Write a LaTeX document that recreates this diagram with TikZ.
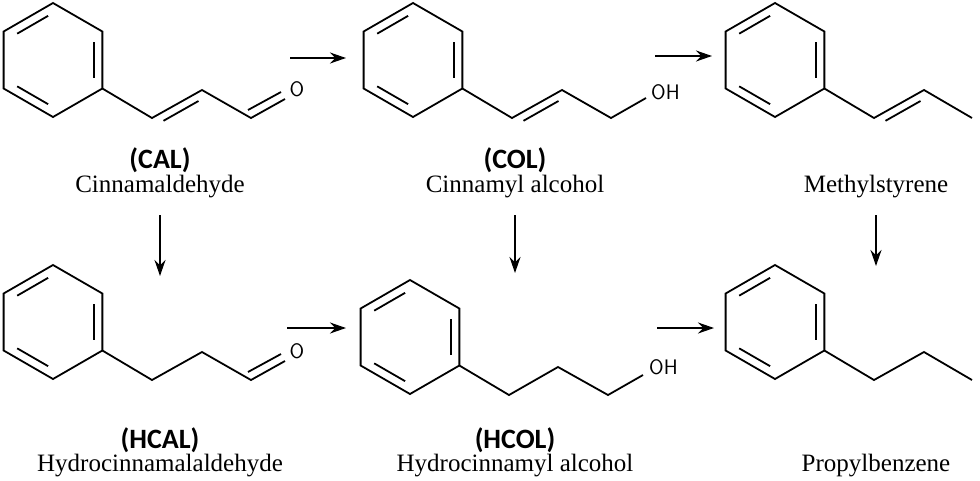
\documentclass[tikz,border=0pt]{standalone}
\usepackage{fontspec}
\setmainfont{Liberation Serif}
\newfontfamily\lblfont{Carlito}
\usetikzlibrary{calc,arrows.meta}
\tikzset{bond/.style={line width=1.8pt,line join=miter},
 arr/.style={line width=1.8pt,-{Stealth[length=16pt,width=11pt]}},
 abbr/.style={font=\lblfont\bfseries\fontsize{28}{28}\selectfont,inner sep=0},
 cname/.style={font=\fontsize{25}{25}\selectfont,inner sep=0},
 atomlbl/.style={font=\sffamily\fontsize{21}{21}\selectfont,inner sep=0}}
\newcommand\benz[3]{%
 \foreach \a/\n in {90/1,30/2,-30/3,-90/4,-150/5,150/6}{%
  \coordinate (#1v\n) at ($(#2,#3)+(\a:57)$);
  \coordinate (#1i\n) at ($(#2,#3)+(\a:47)$);}
 \draw[bond] (#1v1)--(#1v2)--(#1v3)--(#1v4)--(#1v5)--(#1v6)--cycle;
 \draw[bond] ($(#1i5)!0.12!(#1i4)$)--($(#1i5)!0.88!(#1i4)$);
 \draw[bond] ($(#1i2)!0.12!(#1i3)$)--($(#1i2)!0.88!(#1i3)$);
 \draw[bond] ($(#1i6)!0.12!(#1i1)$)--($(#1i6)!0.88!(#1i1)$);
}
\begin{document}
\begin{tikzpicture}[x=1pt,y=-1pt]
\useasboundingbox (0,0) rectangle (980,480);
% CAL
\benz{a}{53}{60}
\draw[bond] (av2)--(152,118)--(202,90)--(251,118)--(285,99);
\draw[bond] (163.5,120.8)--(198.5,101);
\draw[bond] (248,110)--(281,92);
\node[atomlbl] (o1) at (297,89) {O};
% COL
\benz{b}{413}{60}
\draw[bond] (bv2)--(512,118)--(562,90)--(611,118)--(646,98);
\draw[bond] (523.5,120.8)--(558.5,101);
\node[atomlbl,anchor=west] (oh1) at (651,92) {OH};
% Methylstyrene
\benz{c}{775}{60}
\draw[bond] (cv2)--(874,118)--(924,90)--(972,118);
\draw[bond] (885.5,120.8)--(920.5,101);
% HCAL
\benz{d}{53}{322}
\draw[bond] (dv2)--(152,380)--(202,352)--(251,380)--(285,361);
\draw[bond] (248,372)--(281,354);
\node[atomlbl] (o2) at (297,351) {O};
% HCOL
\benz{e}{410}{337}
\draw[bond] (ev2)--(509,395)--(558,367)--(608,395)--(643,375);
\node[atomlbl,anchor=west] (oh2) at (649,367) {OH};
% Propylbenzene
\benz{f}{775}{322}
\draw[bond] (fv2)--(874,380)--(924,352)--(972,380);
% labels
\node[abbr] (l1) at (160,160) {(CAL)};
\node[cname] (n1) at (160,187) {Cinnamaldehyde};
\node[abbr] (l2) at (515,160) {(COL)};
\node[cname] (n2) at (515,187) {Cinnamyl alcohol};
\node[cname] (n3) at (876,187) {Methylstyrene};
\node[abbr] (l4) at (160,440) {(HCAL)};
\node[cname] (n4) at (160,466) {Hydrocinnamalaldehyde};
\node[abbr] (l5) at (515,440) {(HCOL)};
\node[cname] (n5) at (515,466) {Hydrocinnamyl alcohol};
\node[cname] (n6) at (876,466) {Propylbenzene};
% arrows
\coordinate (h1s) at (290,58); \coordinate (h1e) at (346,58);
\coordinate (h2s) at (655,56); \coordinate (h2e) at (712,56);
\coordinate (h3s) at (287,328); \coordinate (h3e) at (346,328);
\coordinate (h4s) at (657,328); \coordinate (h4e) at (714,328);
\coordinate (v1s) at (160,215); \coordinate (v1e) at (160,276);
\coordinate (v2s) at (515,215); \coordinate (v2e) at (515,273);
\coordinate (v3s) at (876,215); \coordinate (v3e) at (876,266);
\draw[arr] (h1s)--(h1e);
\draw[arr] (h2s)--(h2e);
\draw[arr] (h3s)--(h3e);
\draw[arr] (h4s)--(h4e);
\draw[arr] (v1s)--(v1e);
\draw[arr] (v2s)--(v2e);
\draw[arr] (v3s)--(v3e);
\end{tikzpicture}
\end{document}
